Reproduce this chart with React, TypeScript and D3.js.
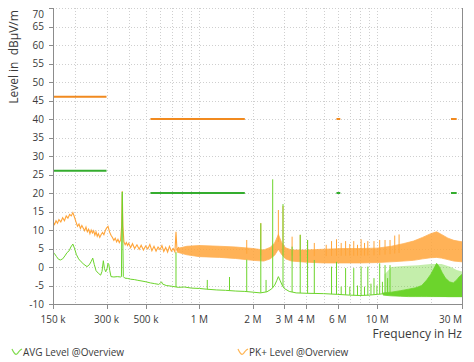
import React from 'react';
import * as d3 from 'd3';

// frequencies in MHz, levels in dBµV/m
const xTickLabels: [number, string][] = [
  [0.15, '150 k'], [0.3, '300 k'], [0.5, '500 k'], [1, '1 M'], [2, '2 M'],
  [3, '3 M'], [4, '4 M'], [6, '6 M'], [10, '10 M'], [30, '30 M'],
];
const xGridLines = [
  0.2, 0.3, 0.4, 0.5, 0.6, 0.7, 0.8, 0.9, 1, 2, 3, 4, 5, 6, 7, 8, 9, 10, 20,
];
const yTicks = [-10, -5, 0, 5, 10, 15, 20, 25, 30, 35, 40, 45, 50, 55, 60, 65, 70];

// [start, stop, level]
const pkLimit: [number, number, number][] = [
  [0.15, 0.3, 46], [0.53, 1.8, 40], [5.9, 6.2, 40], [26, 28, 40],
];
const avgLimit: [number, number, number][] = [
  [0.15, 0.3, 26], [0.53, 1.8, 20], [5.9, 6.2, 20], [26, 28, 20],
];

// PK+ trace, low band as a line
const pkLine: [number, number][] = [
  [0.150, 12.2], [0.153, 11.5], [0.156, 12.5], [0.159, 11.8], [0.162, 12.8], [0.166, 12.2],
  [0.170, 13.3], [0.174, 12.5], [0.178, 13.8], [0.182, 13.2], [0.186, 14.2], [0.190, 13.8],
  [0.194, 14.7], [0.198, 13.5], [0.202, 12.2], [0.206, 11.0], [0.210, 11.6], [0.214, 10.4],
  [0.218, 11.2], [0.222, 10.5], [0.226, 9.8], [0.230, 10.8], [0.234, 9.5], [0.238, 10.2],
  [0.242, 9.0], [0.246, 10.0], [0.250, 9.2], [0.254, 9.8], [0.258, 8.6], [0.262, 9.5],
  [0.266, 8.3], [0.270, 9.0], [0.275, 8.0], [0.280, 8.8], [0.285, 9.3], [0.290, 8.7],
  [0.295, 9.8], [0.300, 10.5], [0.306, 11.0], [0.312, 9.5], [0.318, 8.6], [0.324, 8.0],
  [0.330, 7.2], [0.336, 7.8], [0.342, 6.8], [0.348, 7.5], [0.354, 6.6], [0.360, 7.3],
  [0.365, 11.0], [0.368, 20.5], [0.371, 11.0], [0.376, 6.8], [0.382, 6.0], [0.388, 6.6],
  [0.394, 5.8], [0.400, 6.4], [0.410, 5.2], [0.420, 6.3], [0.432, 5.0], [0.445, 6.0],
  [0.458, 4.8], [0.470, 5.9], [0.484, 4.6], [0.498, 5.7], [0.512, 4.9], [0.526, 6.1],
  [0.540, 4.4], [0.555, 5.6], [0.570, 4.3], [0.585, 5.4], [0.600, 4.7], [0.615, 5.8],
  [0.630, 4.2], [0.646, 5.3], [0.662, 4.0], [0.678, 5.6], [0.695, 4.3], [0.712, 5.0],
  [0.728, 4.1], [0.738, 9.5], [0.748, 4.4], [0.765, 5.4],
];

// PK+ trace above 0.75 MHz: [f, min, max]
const pkBand: [number, number, number][] = [
  [0.75, 4.0, 5.0], [0.85, 3.3, 5.6], [1.0, 2.8, 5.8], [1.3, 2.6, 5.6], [1.6, 2.3, 5.4],
  [2.0, 1.8, 5.0], [2.3, 1.6, 4.6], [2.5, 2.2, 5.3], [2.65, 3.2, 6.5], [2.78, 4.8, 8.8],
  [2.9, 3.4, 6.6], [3.05, 2.2, 5.2], [3.3, 1.6, 4.6], [4.0, 1.3, 4.6], [5.0, 1.1, 4.8],
  [6.5, 1.1, 5.0], [8.0, 1.1, 5.0], [10.0, 1.2, 5.1], [12.0, 1.4, 5.6], [14.0, 1.6, 6.3],
  [16.0, 1.8, 7.0], [18.0, 2.2, 8.0], [20.0, 2.5, 9.0], [21.6, 2.6, 9.5], [23.0, 2.4, 8.8],
  [25.0, 2.0, 7.8], [27.0, 1.6, 7.2], [30.0, 1.4, 6.8],
];

const pkSpikes: [number, number][] = [
  [1.845, 7.3], [2.214, 11.9], [2.78, 15.4], [2.952, 16.5], [3.321, 8.2], [3.690, 8.7],
  [4.059, 7.3], [4.428, 6.5], [5.166, 6.0], [5.535, 7.0], [5.904, 7.5], [6.273, 6.5],
  [6.642, 7.0], [7.011, 6.2], [7.380, 7.0], [7.749, 6.0], [8.118, 7.5], [8.487, 6.5],
  [8.856, 7.0], [9.594, 7.0], [10.33, 7.3], [11.07, 7.3], [11.81, 7.3], [12.55, 8.5],
  [13.28, 8.8],
];

// AVG trace
const avgLine: [number, number][] = [
  [0.150, 4.1], [0.153, 3.6], [0.157, 2.8], [0.161, 2.1], [0.165, 1.9], [0.170, 2.2],
  [0.175, 3.0], [0.180, 3.9], [0.185, 4.4], [0.189, 5.4], [0.194, 6.2], [0.198, 5.1],
  [0.203, 3.4], [0.209, 2.2], [0.216, 1.4], [0.224, 0.7], [0.233, 0.1], [0.240, 0.6],
  [0.246, 1.5], [0.251, 2.4], [0.256, 0.7], [0.262, -1.0], [0.270, -1.7], [0.278, -2.2],
  [0.283, -1.2], [0.288, 1.7], [0.292, -0.4], [0.297, -1.3], [0.302, -0.4], [0.306, 1.0],
  [0.309, 0.7], [0.313, -1.0], [0.318, -2.6], [0.330, -2.7], [0.345, -2.6], [0.360, -2.7],
  [0.364, -2.6], [0.366, 10.5], [0.368, 20.3], [0.370, 10.5], [0.373, -2.6], [0.380, -3.0],
  [0.395, -3.1], [0.410, -3.3], [0.430, -3.4], [0.450, -3.6], [0.475, -3.8], [0.500, -4.0],
  [0.530, -4.3], [0.560, -4.5], [0.590, -4.7], [0.605, -4.3], [0.612, -4.0], [0.620, -4.6],
  [0.650, -5.0], [0.700, -5.2], [0.760, -5.5], [0.820, -5.4], [0.900, -5.7], [1.0, -5.8],
  [1.1, -6.0], [1.25, -6.2], [1.4, -6.3], [1.6, -6.5], [1.8, -6.6], [2.0, -6.8],
  [2.2, -7.0], [2.4, -6.7], [2.55, -5.9], [2.65, -4.9], [2.72, -3.7], [2.78, -2.6],
  [2.84, -3.6], [2.92, -4.9], [3.0, -5.8], [3.2, -6.6], [3.5, -7.0], [4.0, -7.1],
  [5.0, -7.2], [6.0, -7.4], [7.0, -7.6], [8.0, -7.7], [9.0, -7.6], [10.0, -7.4],
  [11.0, -7.2], [13.0, -7.3], [16.0, -7.5], [20.0, -7.8], [25.0, -8.0], [30.0, -8.0],
];

const avgSpikes: [number, number][] = [
  [0.738, 4.0], [1.107, -3.5], [1.476, -2.7], [1.845, 2.0], [2.214, 11.8], [2.37, -3.5],
  [2.583, 23.7], [2.952, 17.0], [3.321, 5.5], [3.690, 8.7], [4.059, 7.3], [4.428, 1.9],
  [5.535, 0.1], [5.904, 1.4], [6.273, -5.3], [6.642, -0.3], [7.011, -5.3], [7.380, -0.3],
  [7.749, -5.0], [8.118, 0.1], [8.487, -5.3], [8.856, 0.1], [9.225, -4.5], [9.594, -3.0],
  [9.963, -5.0], [10.33, 1.0], [10.70, -4.0], [11.07, 0.5], [11.44, -3.0], [11.81, 0.5],
];

// dense harmonic comb (light) and the solid hump above 10 MHz: [f, min, max]
const avgComb: [number, number, number][] = [
  [11.0, -7.6, -2.0], [12.0, -7.8, 0.0], [14.0, -7.9, 0.3], [17.0, -8.0, 0.5],
  [20.0, -8.0, 0.8], [23.0, -8.0, 0.8], [26.0, -8.0, 0.0], [28.0, -8.0, -0.8],
  [30.0, -8.0, -1.2],
];
const avgHump: [number, number, number][] = [
  [10.8, -7.6, -7.0], [12.0, -7.8, -6.8], [13.5, -7.9, -6.4], [15.0, -8.0, -6.0],
  [16.5, -8.0, -5.6], [17.8, -8.0, -5.0], [19.0, -8.0, -3.5], [20.0, -8.0, -2.0],
  [20.8, -8.0, -0.5], [21.6, -8.0, 1.0], [22.4, -8.0, 0.0], [23.2, -8.0, -1.5],
  [24.2, -8.0, -3.0], [25.5, -8.0, -4.0], [26.8, -8.0, -4.3], [28.0, -8.0, -3.5],
  [29.0, -8.0, -2.6], [30.0, -8.0, -2.0],
];

const ORANGE = '#ffa53a';
const ORANGE_LIMIT = '#f18a1f';
const GREEN = '#6cd42c';
const GREEN_LIMIT = '#34ad2e';
const FONT = '"Open Sans", "Noto Sans", sans-serif';
const TEXT = '#3a3a3a';
const AXIS = '#8c8c8c';

const plot = { left: 53, right: 462, top: 8, bottom: 304 };

const x = d3.scaleLog().domain([0.15, 30]).range([plot.left, plot.right]);
const y = d3.scaleLinear().domain([-10, 70]).range([plot.bottom, plot.top]);

const line = d3.line<[number, number]>().x(d => x(d[0])).y(d => y(d[1]));
const band = d3.area<[number, number, number]>()
  .x(d => x(d[0])).y0(d => y(d[1])).y1(d => y(d[2]));

// level of a trace at f (log-frequency), used as the foot of a spike
function levelAt(pts: [number, number][], f: number) {
  const i = d3.bisector((d: [number, number]) => d[0]).left(pts, f);
  if (i <= 0) return pts[0][1];
  if (i >= pts.length) return pts[pts.length - 1][1];
  const [f0, v0] = pts[i - 1];
  const [f1, v1] = pts[i];
  const t = (Math.log(f) - Math.log(f0)) / (Math.log(f1) - Math.log(f0));
  return v0 + t * (v1 - v0);
}

const pkMid: [number, number][] = pkBand.map(d => [d[0], (d[1] + d[2]) / 2]);

const legendIcon = d3.line<[number, number]>().curve(d3.curveBasis)([
  [0, -3], [2, 1], [4, 3], [6, 1], [8, -2], [10, -3],
]);

export default function App() {
  return (
    <svg width={474} height={362} style={{ position: 'absolute', left: 0, top: 0, background: '#fff' }}
      fontFamily={FONT}>
      <defs>
        <clipPath id="plot">
          <rect x={plot.left} y={plot.top - 1} width={plot.right - plot.left} height={plot.bottom - plot.top + 1} />
        </clipPath>
      </defs>

      {/* grid */}
      <g stroke="#cfcfcf" strokeWidth={1} strokeDasharray="1,2">
        {yTicks.filter(v => v > -10).map(v => (
          <line key={v} x1={plot.left} x2={plot.right} y1={Math.round(y(v)) + 0.5} y2={Math.round(y(v)) + 0.5} />
        ))}
        {xGridLines.map(f => (
          <line key={f} x1={Math.round(x(f)) + 0.5} x2={Math.round(x(f)) + 0.5} y1={plot.top} y2={plot.bottom} />
        ))}
      </g>

      <g clipPath="url(#plot)">
        {/* PK+ */}
        <path d={band(pkBand) ?? ''} fill={ORANGE} stroke={ORANGE} strokeWidth={0.8} opacity={0.85} />
        <path d={line(pkLine) ?? ''} fill="none" stroke={ORANGE} strokeWidth={1.1} />
        {pkSpikes.map(([f, v]) => (
          <line key={f} x1={x(f)} x2={x(f)} y1={y(levelAt(pkMid, f))} y2={y(v)} stroke={ORANGE} strokeWidth={1} />
        ))}

        {/* AVG */}
        <path d={band(avgComb) ?? ''} fill={GREEN} opacity={0.4} />
        <path d={band(avgHump) ?? ''} fill={GREEN} stroke={GREEN} strokeWidth={0.8} />
        <path d={line(avgLine) ?? ''} fill="none" stroke={GREEN} strokeWidth={1} />
        {avgSpikes.map(([f, v]) => (
          <line key={f} x1={x(f)} x2={x(f)} y1={y(levelAt(avgLine, f))} y2={y(v)} stroke={GREEN} strokeWidth={1} />
        ))}
      </g>

      {/* limit lines */}
      {pkLimit.map(([a, b, v]) => (
        <line key={'pk' + a} x1={x(a)} x2={x(b)} y1={y(v)} y2={y(v)} stroke={ORANGE_LIMIT} strokeWidth={2} />
      ))}
      {avgLimit.map(([a, b, v]) => (
        <line key={'avg' + a} x1={x(a)} x2={x(b)} y1={y(v)} y2={y(v)} stroke={GREEN_LIMIT} strokeWidth={2} />
      ))}

      {/* axes frame */}
      <g stroke={AXIS} strokeWidth={1} fill="none">
        <line x1={plot.left + 0.5} x2={plot.left + 0.5} y1={plot.top} y2={plot.bottom + 0.5} />
        <line x1={plot.right + 0.5} x2={plot.right + 0.5} y1={plot.top} y2={plot.bottom + 0.5} />
        <line x1={plot.left} x2={plot.right + 1} y1={plot.bottom + 0.5} y2={plot.bottom + 0.5} />
        {yTicks.map(v => (
          <line key={v} x1={plot.left - 4} x2={plot.left} y1={Math.round(y(v)) + 0.5} y2={Math.round(y(v)) + 0.5} />
        ))}
        {xTickLabels.map(([f]) => (
          <line key={f} x1={Math.round(x(f)) + 0.5} x2={Math.round(x(f)) + 0.5} y1={plot.bottom} y2={plot.bottom + 5} />
        ))}
      </g>

      {/* tick labels */}
      <g fontSize={10} fill={TEXT}>
        {yTicks.map(v => (
          <text key={v} x={plot.left - 9} y={Math.max(y(v), plot.top + 6)} dy="0.35em" textAnchor="end">{v}</text>
        ))}
        {xTickLabels.map(([f, label]) => {
          const atEnd = f === 30;
          return (
            <text key={f} x={atEnd ? plot.right : x(f)} y={plot.bottom + 19} textAnchor={atEnd ? 'end' : 'middle'}>
              {label}
            </text>
          );
        })}
      </g>

      {/* axis titles */}
      <text transform="translate(18,57) rotate(-90)" textAnchor="middle" fontSize={12} fill={TEXT}
        style={{ whiteSpace: 'pre' }}>Level in  dBµV/m</text>
      <text x={plot.right} y={338} textAnchor="end" fontSize={12} fill={TEXT}>Frequency in Hz</text>

      {/* legend */}
      <g transform="translate(12,352)">
        <path d={legendIcon ?? ''} fill="none" stroke="#7fdb4c" strokeWidth={1.2} />
        <text x={11} y={4} fontSize={10} fill={TEXT}>AVG Level @Overview</text>
      </g>
      <g transform="translate(238,352)">
        <path d={legendIcon ?? ''} fill="none" stroke="#ffb452" strokeWidth={1.2} />
        <text x={11} y={4} fontSize={10} fill={TEXT}>PK+ Level @Overview</text>
      </g>
    </svg>
  );
}
